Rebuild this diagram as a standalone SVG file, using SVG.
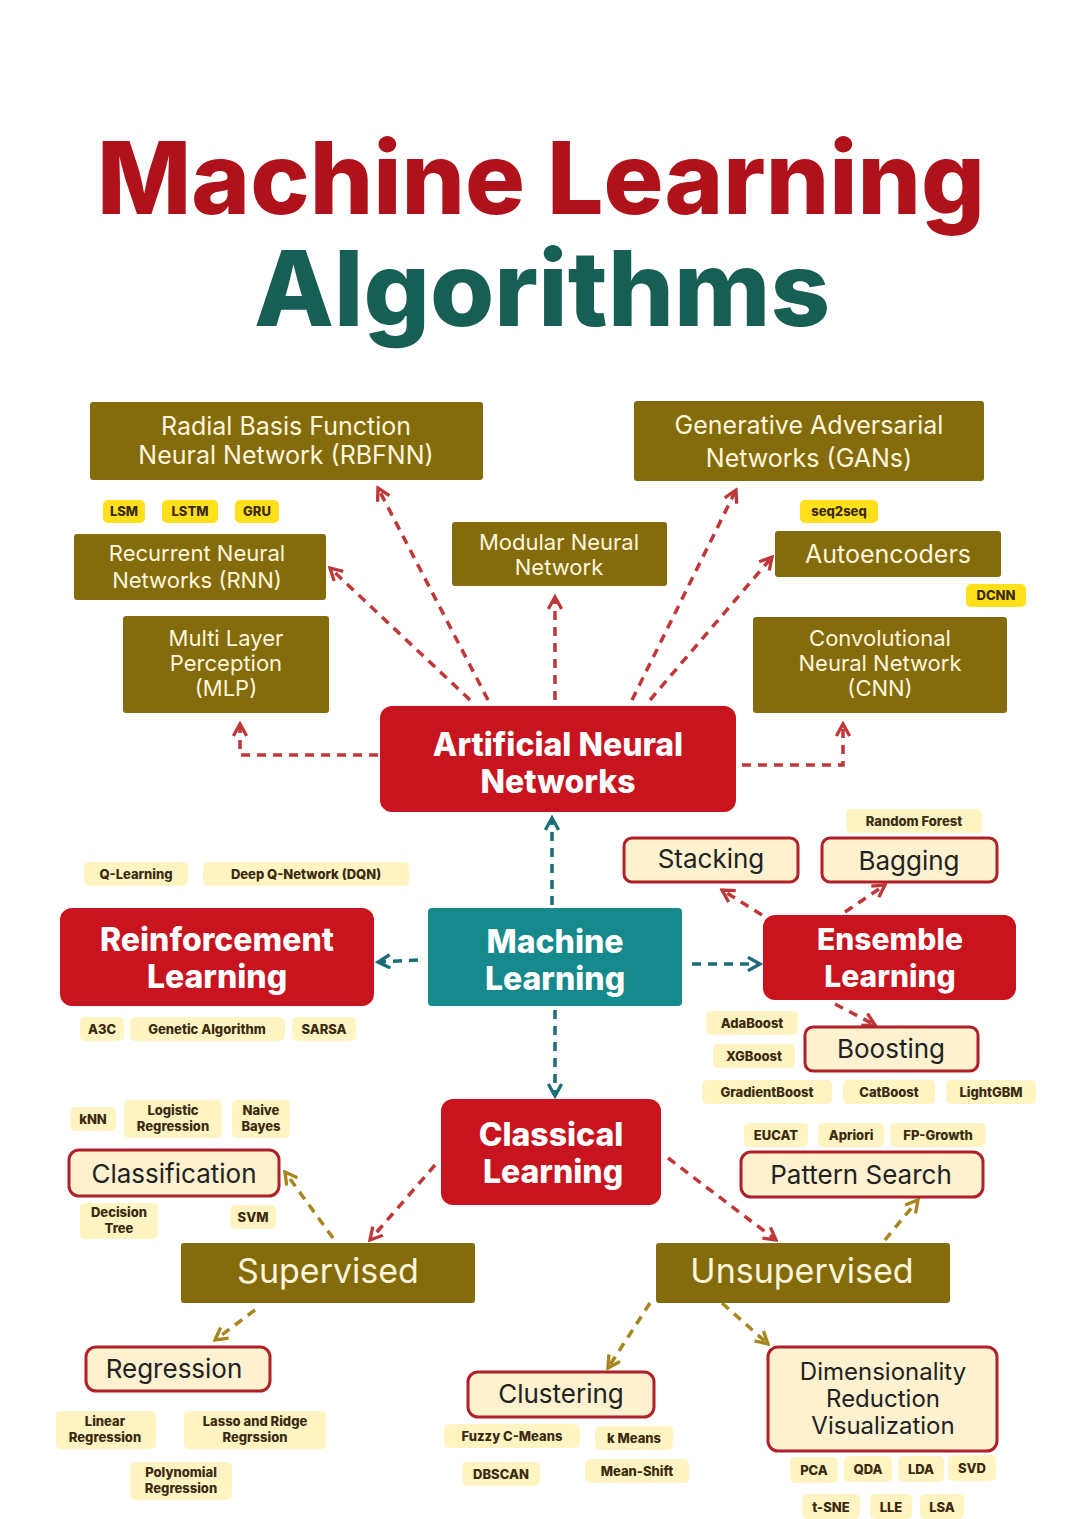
<svg xmlns="http://www.w3.org/2000/svg" width="1080" height="1519" viewBox="0 0 1080 1519">
<defs>
<style>
text{font-family:Inter,"Open Sans","Noto Sans",sans-serif;text-anchor:middle}
.ol{fill:#846b0c}
.ol2{fill:#fff6dc;font-size:25px}
.rd{fill:#c8141f}
.wh{fill:#fff;font-weight:800;font-size:32px}
.cr{fill:#fdf1cf;stroke:#b0202a;stroke-width:3}
.ct{fill:#222;font-size:26px}
.tg{fill:#fff4c2}
.ty{fill:#ffe01a}
.tt{fill:#3a2a10;font-size:13px;font-weight:800}
.cr1{fill:none;stroke:#c0373a;stroke-width:3.5;stroke-dasharray:9 7}
.ct1{fill:none;stroke:#1d6c79;stroke-width:3.5;stroke-dasharray:9 7}
.co1{fill:none;stroke:#a8861e;stroke-width:3.5;stroke-dasharray:9 7}
</style>
<marker id="ar" viewBox="0 0 12 12" refX="10" refY="6" markerWidth="16" markerHeight="16" markerUnits="userSpaceOnUse" orient="auto"><polyline points="1,1 10,6 1,11" fill="none" stroke="#c0373a" stroke-width="2.5"/></marker>
<marker id="at" viewBox="0 0 12 12" refX="10" refY="6" markerWidth="16" markerHeight="16" markerUnits="userSpaceOnUse" orient="auto"><polyline points="1,1 10,6 1,11" fill="none" stroke="#1d6c79" stroke-width="2.5"/></marker>
<marker id="ao" viewBox="0 0 12 12" refX="10" refY="6" markerWidth="16" markerHeight="16" markerUnits="userSpaceOnUse" orient="auto"><polyline points="1,1 10,6 1,11" fill="none" stroke="#a8861e" stroke-width="2.5"/></marker>
</defs>
<rect width="1080" height="1519" fill="#fff"/>
<g id="title">
<text x="541" y="214" font-size="100" font-weight="800" fill="#b0121b">Machine Learning</text>
<text x="542" y="326" font-size="104" font-weight="800" fill="#175e54">Algorithms</text>
</g>
<g id="connectors">
<polyline class="cr1" points="378,755 240,755 240,724" marker-end="url(#ar)"/>
<polyline class="cr1" points="742,765 843,765 843,724" marker-end="url(#ar)"/>
<line class="cr1" x1="470" y1="700" x2="330" y2="568" marker-end="url(#ar)"/>
<line class="cr1" x1="488" y1="700" x2="378" y2="488" marker-end="url(#ar)"/>
<line class="cr1" x1="555" y1="700" x2="555" y2="597" marker-end="url(#ar)"/>
<line class="cr1" x1="632" y1="700" x2="736" y2="490" marker-end="url(#ar)"/>
<line class="cr1" x1="650" y1="700" x2="772" y2="557" marker-end="url(#ar)"/>
<line class="ct1" x1="552" y1="905" x2="552" y2="818" marker-end="url(#at)"/>
<line class="ct1" x1="418" y1="960" x2="378" y2="962" marker-end="url(#at)"/>
<line class="ct1" x1="692" y1="964" x2="760" y2="964" marker-end="url(#at)"/>
<line class="ct1" x1="555" y1="1010" x2="555" y2="1096" marker-end="url(#at)"/>
<line class="cr1" x1="762" y1="915" x2="722" y2="890" marker-end="url(#ar)"/>
<line class="cr1" x1="845" y1="912" x2="885" y2="885" marker-end="url(#ar)"/>
<line class="cr1" x1="835" y1="1004" x2="875" y2="1025" marker-end="url(#ar)"/>
<line class="cr1" x1="435" y1="1165" x2="370" y2="1240" marker-end="url(#ar)"/>
<line class="cr1" x1="668" y1="1158" x2="776" y2="1240" marker-end="url(#ar)"/>
<line class="co1" x1="333" y1="1238" x2="285" y2="1172" marker-end="url(#ao)"/>
<line class="co1" x1="255" y1="1310" x2="215" y2="1340" marker-end="url(#ao)"/>
<line class="co1" x1="885" y1="1240" x2="918" y2="1200" marker-end="url(#ao)"/>
<line class="co1" x1="650" y1="1303" x2="608" y2="1368" marker-end="url(#ao)"/>
<line class="co1" x1="722" y1="1303" x2="768" y2="1344" marker-end="url(#ao)"/>
</g>
<g id="rbfnn"><rect class="ol" x="90" y="402" width="393" height="78" rx="3"/><text class="ol2" x="286" y="435">Radial Basis Function</text><text class="ol2" x="286" y="464">Neural Network (RBFNN)</text></g>
<g id="gans"><rect class="ol" x="634" y="401" width="350" height="80" rx="3"/><text class="ol2" x="809" y="434">Generative Adversarial</text><text class="ol2" x="809" y="467">Networks (GANs)</text></g>
<g id="rnn"><rect class="ol" x="74" y="534" width="252" height="66" rx="3"/><text class="ol2" x="197" y="561" style="font-size:22px">Recurrent Neural</text><text class="ol2" x="197" y="588" style="font-size:22px">Networks (RNN)</text></g>
<g id="modular"><rect class="ol" x="452" y="522" width="215" height="64" rx="3"/><text class="ol2" x="559" y="550" style="font-size:22px">Modular Neural</text><text class="ol2" x="559" y="575" style="font-size:22px">Network</text></g>
<g id="autoenc"><rect class="ol" x="775" y="531" width="226" height="46" rx="3"/><text class="ol2" x="888" y="563">Autoencoders</text></g>
<g id="mlp"><rect class="ol" x="123" y="616" width="206" height="97" rx="3"/><text class="ol2" x="226" y="646" style="font-size:22px">Multi Layer</text><text class="ol2" x="226" y="671" style="font-size:22px">Perception</text><text class="ol2" x="226" y="696" style="font-size:22px">(MLP)</text></g>
<g id="cnn"><rect class="ol" x="753" y="617" width="254" height="96" rx="3"/><text class="ol2" x="880" y="646" style="font-size:22px">Convolutional</text><text class="ol2" x="880" y="671" style="font-size:22px">Neural Network</text><text class="ol2" x="880" y="696" style="font-size:22px">(CNN)</text></g>
<g id="tags-ann">
<rect class="ty" x="103" y="500" width="42" height="23" rx="5"/><text class="tt" x="124" y="516">LSM</text>
<rect class="ty" x="162" y="500" width="56" height="23" rx="5"/><text class="tt" x="190" y="516">LSTM</text>
<rect class="ty" x="235" y="500" width="44" height="23" rx="5"/><text class="tt" x="257" y="516">GRU</text>
<rect class="ty" x="800" y="500" width="78" height="23" rx="5"/><text class="tt" x="839" y="516">seq2seq</text>
<rect class="ty" x="966" y="584" width="60" height="23" rx="5"/><text class="tt" x="996" y="600">DCNN</text>
</g>
<g id="ann"><rect class="rd" x="380" y="706" width="356" height="106" rx="12"/><text class="wh" x="558" y="756">Artificial Neural</text><text class="wh" x="558" y="793">Networks</text></g>
<g id="ml"><rect fill="#16898c" x="428" y="908" width="254" height="98" rx="4"/><text class="wh" x="555" y="953">Machine</text><text class="wh" x="555" y="990">Learning</text></g>
<g id="rl"><rect class="rd" x="60" y="908" width="314" height="98" rx="12"/><text class="wh" x="217" y="951">Reinforcement</text><text class="wh" x="217" y="988">Learning</text></g>
<g id="el"><rect class="rd" x="763" y="915" width="253" height="85" rx="12"/><text class="wh" x="890" y="950" style="font-size:30px">Ensemble</text><text class="wh" x="890" y="987" style="font-size:30px">Learning</text></g>
<g id="tags-rl">
<rect class="tg" x="84" y="862" width="104" height="24" rx="5"/><text class="tt" x="136" y="879">Q-Learning</text>
<rect class="tg" x="203" y="862" width="206" height="24" rx="5"/><text class="tt" x="306" y="879">Deep Q-Network (DQN)</text>
<rect class="tg" x="80" y="1017" width="44" height="24" rx="5"/><text class="tt" x="102" y="1034">A3C</text>
<rect class="tg" x="130" y="1017" width="155" height="24" rx="5"/><text class="tt" x="207" y="1034">Genetic Algorithm</text>
<rect class="tg" x="292" y="1017" width="64" height="24" rx="5"/><text class="tt" x="324" y="1034">SARSA</text>
</g>
<g id="stacking"><rect class="cr" x="624" y="838" width="174" height="44" rx="8"/><text class="ct" x="711" y="868">Stacking</text></g>
<g id="bagging"><rect class="cr" x="822" y="838" width="175" height="44" rx="8"/><text class="ct" x="909" y="870">Bagging</text></g>
<g id="boosting"><rect class="cr" x="805" y="1027" width="173" height="44" rx="8"/><text class="ct" x="891" y="1058">Boosting</text></g>
<g id="tags-el">
<rect class="tg" x="846" y="809" width="136" height="24" rx="5"/><text class="tt" x="914" y="826">Random Forest</text>
<rect class="tg" x="706" y="1011" width="92" height="24" rx="5"/><text class="tt" x="752" y="1028">AdaBoost</text>
<rect class="tg" x="713" y="1044" width="82" height="24" rx="5"/><text class="tt" x="754" y="1061">XGBoost</text>
<rect class="tg" x="702" y="1080" width="130" height="24" rx="5"/><text class="tt" x="767" y="1097">GradientBoost</text>
<rect class="tg" x="843" y="1080" width="92" height="24" rx="5"/><text class="tt" x="889" y="1097">CatBoost</text>
<rect class="tg" x="946" y="1080" width="90" height="24" rx="5"/><text class="tt" x="991" y="1097">LightGBM</text>
</g>
<g id="classical"><rect class="rd" x="441" y="1099" width="220" height="106" rx="12"/><text class="wh" x="551" y="1146">Classical</text><text class="wh" x="553" y="1183">Learning</text></g>
<g id="classification"><rect class="cr" x="69" y="1150" width="210" height="46" rx="10"/><text class="ct" x="174" y="1183">Classification</text></g>
<g id="patternsearch"><rect class="cr" x="741" y="1152" width="242" height="45" rx="10"/><text class="ct" x="861" y="1184">Pattern Search</text></g>
<g id="supervised"><rect class="ol" x="181" y="1243" width="294" height="60" rx="3"/><text class="ol2" x="328" y="1283" style="font-size:34px">Supervised</text></g>
<g id="unsupervised"><rect class="ol" x="656" y="1243" width="294" height="60" rx="3"/><text class="ol2" x="802" y="1283" style="font-size:34px">Unsupervised</text></g>
<g id="regression"><rect class="cr" x="86" y="1347" width="184" height="44" rx="10"/><text class="ct" x="174" y="1378">Regression</text></g>
<g id="clustering"><rect class="cr" x="468" y="1372" width="186" height="45" rx="10"/><text class="ct" x="561" y="1403">Clustering</text></g>
<g id="dimred"><rect class="cr" x="768" y="1347" width="229" height="104" rx="10"/><text class="ct" x="883" y="1380" style="font-size:24px">Dimensionality</text><text class="ct" x="883" y="1407" style="font-size:24px">Reduction</text><text class="ct" x="883" y="1434" style="font-size:24px">Visualization</text></g>
<g id="tags-cl">
<rect class="tg" x="70" y="1107" width="46" height="24" rx="5"/><text class="tt" x="93" y="1124">kNN</text>
<rect class="tg" x="124" y="1100" width="98" height="38" rx="5"/><text class="tt" x="173" y="1115">Logistic</text><text class="tt" x="173" y="1131">Regression</text>
<rect class="tg" x="232" y="1100" width="58" height="38" rx="5"/><text class="tt" x="261" y="1115">Naive</text><text class="tt" x="261" y="1131">Bayes</text>
<rect class="tg" x="80" y="1203" width="78" height="36" rx="5"/><text class="tt" x="119" y="1217">Decision</text><text class="tt" x="119" y="1233">Tree</text>
<rect class="tg" x="230" y="1205" width="46" height="24" rx="5"/><text class="tt" x="253" y="1222">SVM</text>
<rect class="tg" x="744" y="1123" width="64" height="24" rx="5"/><text class="tt" x="776" y="1140">EUCAT</text>
<rect class="tg" x="818" y="1123" width="66" height="24" rx="5"/><text class="tt" x="851" y="1140">Apriori</text>
<rect class="tg" x="890" y="1123" width="96" height="24" rx="5"/><text class="tt" x="938" y="1140">FP-Growth</text>
<rect class="tg" x="56" y="1411" width="100" height="38" rx="5"/><text class="tt" x="105" y="1426">Linear</text><text class="tt" x="105" y="1442">Regression</text>
<rect class="tg" x="184" y="1411" width="142" height="38" rx="5"/><text class="tt" x="255" y="1426">Lasso and Ridge</text><text class="tt" x="255" y="1442">Regrssion</text>
<rect class="tg" x="130" y="1462" width="102" height="38" rx="5"/><text class="tt" x="181" y="1477">Polynomial</text><text class="tt" x="181" y="1493">Regression</text>
<rect class="tg" x="444" y="1424" width="136" height="24" rx="5"/><text class="tt" x="512" y="1441">Fuzzy C-Means</text>
<rect class="tg" x="595" y="1426" width="78" height="24" rx="5"/><text class="tt" x="634" y="1443">k Means</text>
<rect class="tg" x="462" y="1462" width="78" height="24" rx="5"/><text class="tt" x="501" y="1479">DBSCAN</text>
<rect class="tg" x="585" y="1459" width="104" height="24" rx="5"/><text class="tt" x="637" y="1476">Mean-Shift</text>
<rect class="tg" x="790" y="1457" width="48" height="26" rx="5"/><text class="tt" x="814" y="1475">PCA</text>
<rect class="tg" x="844" y="1456" width="48" height="26" rx="5"/><text class="tt" x="868" y="1474">QDA</text>
<rect class="tg" x="898" y="1456" width="46" height="26" rx="5"/><text class="tt" x="921" y="1474">LDA</text>
<rect class="tg" x="948" y="1455" width="48" height="26" rx="5"/><text class="tt" x="972" y="1473">SVD</text>
<rect class="tg" x="802" y="1494" width="58" height="25" rx="5"/><text class="tt" x="831" y="1512">t-SNE</text>
<rect class="tg" x="870" y="1494" width="42" height="25" rx="5"/><text class="tt" x="891" y="1512">LLE</text>
<rect class="tg" x="920" y="1494" width="44" height="25" rx="5"/><text class="tt" x="942" y="1512">LSA</text>
</g>
</svg>
